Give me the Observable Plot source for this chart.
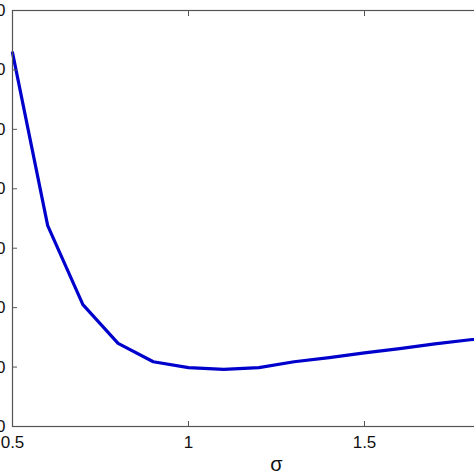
<!DOCTYPE html>
<html>
<head>
<meta charset="utf-8">
<script src="https://cdn.jsdelivr.net/npm/d3@7"></script>
<script src="https://cdn.jsdelivr.net/npm/@observablehq/plot@0.6"></script>
<style>
  html, body { margin: 0; padding: 0; overflow: hidden; background: #fff; }
  #chart { width: 474px; height: 474px; overflow: hidden; }
  #chart svg { max-width: none !important; width: 552px !important; height: 474px !important; }
</style>
</head>
<body>
<div id="chart"></div>
<script>
const sigma = [0.5, 0.6, 0.7, 0.8, 0.9, 1.0, 1.1, 1.2, 1.3, 1.4, 1.5, 1.6, 1.7, 1.8, 1.9, 2.0];
const values = [62.9, 33.8, 20.5, 14.0, 10.9, 9.9, 9.6, 9.9, 10.9, 11.6, 12.4, 13.1, 13.9, 14.6, 15.3, 16.0];
const xTicks = [0.5, 1, 1.5, 2];
const xTickLabels = [0.5, 1, 1.5];
const yTicks = [0, 10, 20, 30, 40, 50, 60, 70];
const xLabel = "σ";

const data = sigma.map((s, i) => ({s, v: values[i]}));
const font = "Liberation Sans, Arial, Helvetica, sans-serif";

const plot = Plot.plot({
  width: 552,
  height: 474,
  marginLeft: 12,
  marginRight: 12,
  marginTop: 10,
  marginBottom: 48,
  style: {fontFamily: font, fontSize: "17px", color: "#111", background: "#fff", overflow: "visible", maxWidth: "none"},
  x: {domain: [0.5, 2.0]},
  y: {domain: [0, 70]},
  marks: [
    Plot.line(data, {x: "s", y: "v", stroke: "#0000cc", strokeWidth: 3.2, strokeLinejoin: "round"}),
    Plot.frame({stroke: "#555", strokeWidth: 1.2}),
    Plot.axisX({ticks: xTicks, anchor: "bottom", tickSize: -5, tickFormat: () => "", label: null, stroke: "#555"}),
    Plot.axisX({ticks: xTicks, anchor: "top", tickSize: -5, tickFormat: () => "", label: null, stroke: "#555"}),
    Plot.axisY({ticks: yTicks, anchor: "left", tickSize: -5, tickFormat: () => "", label: null, stroke: "#555"}),
    Plot.axisY({ticks: yTicks, anchor: "right", tickSize: -5, tickFormat: () => "", label: null, stroke: "#555"}),
    Plot.axisX({ticks: xTickLabels, anchor: "bottom", tickSize: 0, tickPadding: 9, fontSize: 17, label: null, tickFormat: d => String(d), fill: "#111"}),
    Plot.axisY({ticks: yTicks, anchor: "left", tickSize: 0, tickPadding: 7, fontSize: 17, label: null, tickFormat: d => String(d), fill: "#111"}),
    Plot.text([xLabel], {frameAnchor: "bottom", dy: 38, fontSize: 20, lineAnchor: "middle", fill: "#111"})
  ]
});
document.getElementById("chart").appendChild(plot);
</script>
</body>
</html>
